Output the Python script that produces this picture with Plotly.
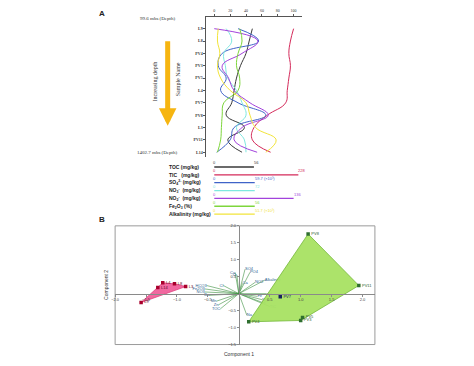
import numpy as np
import plotly.graph_objects as go

W, H = 474, 366
OFF = 8  # page body margin offset in the browser

# ---------------- Panel A data ----------------
samples = ["L9", "L8", "PV4", "PV3", "PV5", "L4", "PV7", "PV8", "L3", "PV11", "L14"]
toc = [48, 44, 40, 33, 28, 25, 22, 15, 38, 17, 35]
tic = [100, 96, 94, 96, 94, 92, 90, 67, 50, 48, 71]
so4 = [30, 56, 10, 5, 15, 8, 30, 65, 25, 20, 3]
no3 = [15, 22, 12, 14, 17, 28, 35, 40, 28, 38, 40]
no2 = [0, 55, 35, 10, 18, 25, 45, 68, 35, 25, 54]
fe2o3 = [32, 35, 30, 28, 32, 30, 12, 10, 9, 8, 4]
alk = [5, 4, 7, 4, 8, 20, 40, 45, 52, 78, 65]
x_ticks_a = [0, 20, 40, 60, 80, 100]

param_labels = ["TOC (mg/kg)", "TIC   (mg/kg)", "SO<sub>4</sub><sup>2-</sup> (mg/kg)",
                "NO<sub>3</sub><sup>-</sup>  (mg/kg)", "NO<sub>2</sub><sup>-</sup>  (mg/kg)",
                "Fe<sub>2</sub>O<sub>3</sub> (%)", "Alkalinity (mg/kg)"]
param_colors = ["#3a3a3a", "#d42a5a", "#3f63c8", "#7fe8e0", "#a243dc", "#7ed63c", "#f2e43a"]
scale_len = [50, 106, 51, 51, 100, 51, 51]
scale_max = ["56", "228", "59.7 (×10³)", "72", "136", "56", "51.7 (×10³)"]
series_a = [toc, tic, so4, no3, no2, fe2o3, alk]

# ---------------- Panel B data ----------------
grp1_names = ["L9", "L4", "L8", "L3", "L14"]
grp1_x = [-1.58, -1.23, -1.04, -0.86, -1.31]
grp1_y = [-0.26, 0.32, 0.29, 0.21, 0.18]
grp2_names = ["PV8", "PV11", "PV5", "PV3", "PV4"]
grp2_x = [1.12, 1.94, 1.03, 1.00, 0.16]
grp2_y = [1.76, 0.24, -0.70, -0.79, -0.83]
grp3_names = ["PV7"]
grp3_x = [0.67]
grp3_y = [-0.09]
load_names = ["Cu", "Cr", "SO4", "PO4", "Ca", "NO2", "Alkalinity", "Cl", "HCO3", "Fe2O3",
              "NO3", "Ba", "Mn", "Zn", "TOC", "Na", "Fe", "Mg", "K", "TIC", "pH"]
load_x = [-0.06, -0.03, 0.10, 0.18, 0.06, 0.26, 0.42, -0.25, -0.52, -0.55,
          -0.55, -0.48, -0.36, -0.33, -0.30, 0.13, 0.30, 0.38, 0.40, 0.50, 0.45]
load_y = [0.62, 0.55, 0.72, 0.63, 0.30, 0.33, 0.40, 0.24, 0.24, 0.14,
          0.05, -0.05, -0.22, -0.33, -0.45, -0.64, -0.08, -0.18, -0.27, -0.38, 0.0]
b_xticks = [-2.0, -1.5, -1.0, -0.5, 0.5, 1.0, 1.5, 2.0]
b_yticks = [-1.5, -1.0, -0.5, 0.5, 1.0, 1.5, 2.0]


def px(x):
    return (x - OFF) / W


def py(y):
    return 1 - (y - OFF) / H


def hull(xs, ys):
    pts = sorted(zip(xs, ys))

    def cross(o, a, b):
        return (a[0] - o[0]) * (b[1] - o[1]) - (a[1] - o[1]) * (b[0] - o[0])
    lower, upper = [], []
    for p in pts:
        while len(lower) >= 2 and cross(lower[-2], lower[-1], p) <= 0:
            lower.pop()
        lower.append(p)
    for p in reversed(pts):
        while len(upper) >= 2 and cross(upper[-2], upper[-1], p) <= 0:
            upper.pop()
        upper.append(p)
    h = lower[:-1] + upper[:-1]
    h.append(h[0])
    return [p[0] for p in h], [p[1] for p in h]


fig = go.Figure()
SERIF = "Liberation Serif, Times New Roman, serif"
SANS = "Liberation Sans, Arial, sans-serif"

# Panel A lines
yidx = list(range(len(samples)))
for vals, col in zip(series_a, param_colors):
    fig.add_trace(go.Scatter(x=vals, y=yidx, mode="lines", xaxis="x", yaxis="y",
                             line=dict(color=col, width=1, shape="spline", smoothing=1.2),
                             showlegend=False, hoverinfo="skip"))

# Legend scale bars
for i, (L, col) in enumerate(zip(scale_len, param_colors)):
    fig.add_trace(go.Scatter(x=[0, L], y=[i, i], mode="lines", xaxis="x3", yaxis="y3",
                             line=dict(color=col, width=1.3), showlegend=False, hoverinfo="skip"))
    fig.add_annotation(x=0, y=i, xref="x3", yref="y3", text="0", showarrow=False,
                       yshift=4, xanchor="center", yanchor="middle",
                       font=dict(size=4, color=col, family=SANS))
    fig.add_annotation(x=L, y=i, xref="x3", yref="y3", text=scale_max[i], showarrow=False,
                       yshift=4, xanchor="left", yanchor="middle", xshift=-2,
                       font=dict(size=4, color=col, family=SANS))
    fig.add_annotation(x=px(164), y=i, xref="paper", yref="y3", text=param_labels[i],
                       showarrow=False, xanchor="left", yanchor="middle",
                       font=dict(size=5, color="#222", family=SANS, weight="bold"))

# Panel B loadings
lx, ly = [], []
for x, y in zip(load_x, load_y):
    lx += [0, x, None]
    ly += [0, y, None]
fig.add_trace(go.Scatter(x=lx, y=ly, mode="lines", xaxis="x2", yaxis="y2",
                         line=dict(color="#3c9040", width=0.6), showlegend=False, hoverinfo="skip"))
tpos = ["middle right" if x >= 0 else "middle left" for x in load_x]
fig.add_trace(go.Scatter(x=load_x, y=load_y, mode="text", text=load_names, textposition=tpos,
                         xaxis="x2", yaxis="y2", textfont=dict(size=4, color="#2a5d8f", family=SANS),
                         showlegend=False, hoverinfo="skip"))

# hulls
h1x, h1y = hull(grp1_x, grp1_y)
fig.add_trace(go.Scatter(x=h1x, y=h1y, mode="lines", fill="toself", xaxis="x2", yaxis="y2",
                         fillcolor="rgba(240,96,155,0.95)", line=dict(color="#e0407e", width=0.8),
                         showlegend=False, hoverinfo="skip"))
h2x, h2y = hull(grp2_x + grp3_x, grp2_y + grp3_y)
fig.add_trace(go.Scatter(x=h2x, y=h2y, mode="lines", fill="toself", xaxis="x2", yaxis="y2",
                         fillcolor="rgba(168,226,98,0.95)", line=dict(color="#74b83a", width=0.8),
                         showlegend=False, hoverinfo="skip"))
for xs, ys, names, mcol, tcol in [(grp1_x, grp1_y, grp1_names, "#a8002c", "#5a0024"),
                                  (grp2_x, grp2_y, grp2_names, "#2f6f2f", "#2f5f2f"),
                                  (grp3_x, grp3_y, grp3_names, "#14235a", "#14235a")]:
    fig.add_trace(go.Scatter(x=xs, y=ys, mode="markers+text", text=names, textposition="middle right",
                             xaxis="x2", yaxis="y2",
                             marker=dict(symbol="square", size=3.5, color=mcol),
                             textfont=dict(size=4, color=tcol, family=SANS),
                             showlegend=False, hoverinfo="skip"))

# ---------------- Layout ----------------
xa_rng = [-10, 110]
ya_dom = [py(155), py(12)]
yb_dom = [py(346), py(225)]
yb_rng = [-1.5, 2.0]
xb_rng = [-2.0, 2.2]
xb_dom = [px(112), px(374)]
pos_xaxis2 = yb_dom[0] + (0 - yb_rng[0]) / (yb_rng[1] - yb_rng[0]) * (yb_dom[1] - yb_dom[0])
pos_yaxis2 = xb_dom[0] + (0 - xb_rng[0]) / (xb_rng[1] - xb_rng[0]) * (xb_dom[1] - xb_dom[0])

fig.update_layout(
    width=W, height=H, margin=dict(l=0, r=0, t=0, b=0),
    paper_bgcolor="white", plot_bgcolor="rgba(0,0,0,0)",
    xaxis=dict(domain=[px(204), px(300)], range=xa_rng, side="top", anchor="y",
               tickvals=x_ticks_a, tickfont=dict(size=4, family=SERIF, color="#333"),
               showline=True, linecolor="#555", linewidth=0.8, ticks="outside", ticklen=2,
               tickcolor="#555", showgrid=False, zeroline=False),
    yaxis=dict(domain=ya_dom, range=[10.4, -0.95], anchor="x",
               tickvals=yidx, ticktext=samples,
               tickfont=dict(size=4, family=SERIF, color="#333", weight="bold"),
               showline=True, linecolor="#555", linewidth=0.8, ticks="outside", ticklen=2,
               tickcolor="#555", showgrid=False, zeroline=False),
    xaxis3=dict(domain=[px(204), px(300)], range=xa_rng, anchor="y3", visible=False),
    yaxis3=dict(domain=[py(218), py(160)], range=[6.625, -0.625], anchor="x3", visible=False),
    xaxis2=dict(domain=xb_dom, range=xb_rng, anchor="free", position=pos_xaxis2,
                tickvals=b_xticks, tickformat=".1f", tickfont=dict(size=4, family=SANS, color="#444"),
                showline=True, linecolor="#8a8a8a", linewidth=1, ticks="outside", ticklen=2,
                tickcolor="#8a8a8a", showgrid=False, zeroline=False),
    yaxis2=dict(domain=yb_dom, range=yb_rng, anchor="free", position=pos_yaxis2,
                tickvals=b_yticks, tickformat=".1f", tickfont=dict(size=4, family=SANS, color="#444"),
                showline=True, linecolor="#8a8a8a", linewidth=1, ticks="outside", ticklen=2,
                tickcolor="#8a8a8a", showgrid=False, zeroline=False),
)

# Panel B frame
fig.add_shape(type="rect", xref="x2 domain", yref="y2 domain", x0=0, x1=1, y0=0, y1=1,
              line=dict(color="#9a9a9a", width=1), layer="below")

# text annotations
ann = [
    dict(x=px(99), y=py(9), text="<b>A</b>", font=dict(size=8, family=SANS, color="#222")),
    dict(x=px(99), y=py(219), text="<b>B</b>", font=dict(size=8, family=SANS, color="#222")),
    dict(x=px(155), y=py(14), text="99.6 mbs (Depth)", font=dict(size=5, family=SERIF, color="#333")),
    dict(x=px(154), y=py(150), text="1402.7 mbs (Depth)", font=dict(size=5, family=SERIF, color="#333")),
    dict(x=px(152), y=py(78), text="Increasing depth", textangle=-90,
         font=dict(size=6, family=SERIF, color="#333")),
    dict(x=px(175), y=py(76), text="Sample Name", textangle=-90,
         font=dict(size=6, family=SERIF, color="#333")),
    dict(x=px(237), y=py(356), text="Component 1", font=dict(size=5, family=SANS, color="#333")),
    dict(x=px(103), y=py(285), text="Component 2", textangle=-90,
         font=dict(size=5, family=SANS, color="#333")),
]
for a in ann:
    fig.add_annotation(xref="paper", yref="paper", showarrow=False,
                       xanchor="center", yanchor="middle", **a)

fig.add_annotation(xref="paper", yref="paper", x=px(165), y=py(123), ax=0, ay=-86,
                   axref="pixel", ayref="pixel", text="", showarrow=True,
                   arrowcolor="#f6b511", arrowwidth=5, arrowhead=2, arrowsize=0.7)

fig.write_html("out.html")
